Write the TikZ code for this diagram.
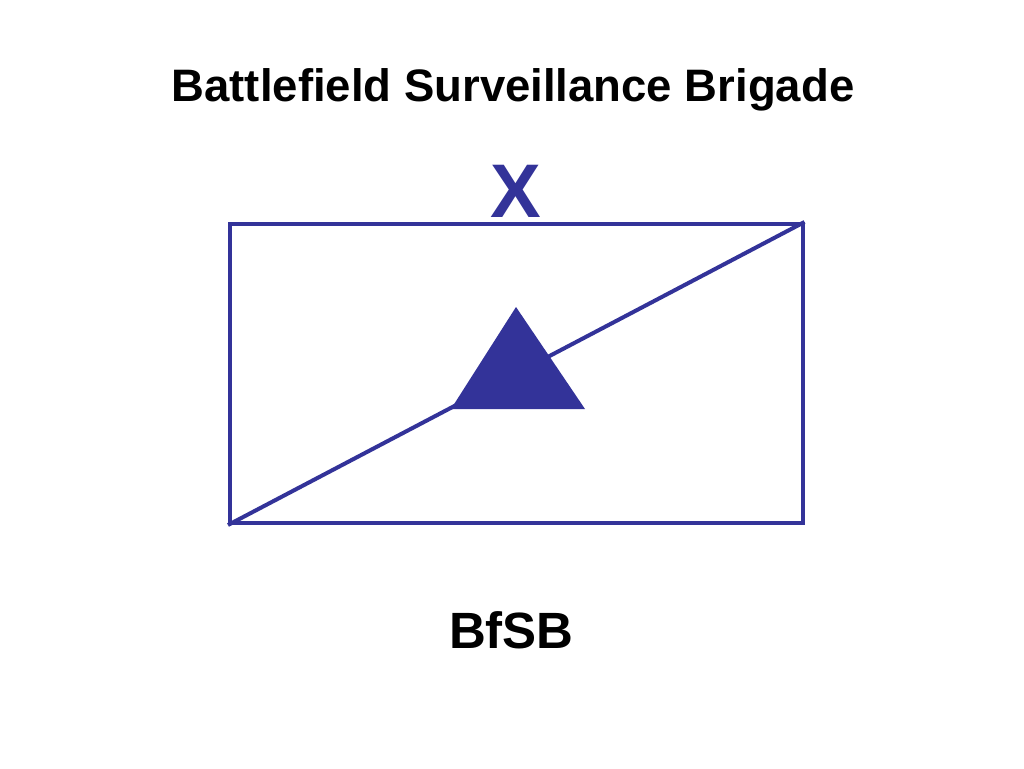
\documentclass[tikz,border=0pt]{standalone}
\usepackage{fontspec}
\setmainfont{Liberation Sans}
\usetikzlibrary{positioning}
\definecolor{symblue}{RGB}{51, 51, 153}

\begin{document}
\begin{tikzpicture}[x=1pt, y=-1pt, every node/.style={font=\bfseries, inner sep=0pt}]
    \useasboundingbox[fill=white] (0,0) rectangle (1024,768);

    % Title
    \node[anchor=base, font=\fontsize{45.5}{48}\selectfont\bfseries] (title) at (513,101) {Battlefield Surveillance Brigade};

    % Echelon mark
    \node[anchor=base, text=symblue, font=\fontsize{76}{80}\selectfont\bfseries] (echelon) at (516,217) {X};

    % Frame and diagonal
    \node[draw=symblue, line width=4pt, minimum width=572.5pt, minimum height=299pt] (frame) at (516.25,373.5) {};
    \draw[symblue, line width=4pt] (frame.south west) -- (frame.north east);

    % Triangle
    \coordinate (apex) at (516,307);
    \coordinate (left) at (451,409);
    \coordinate (right) at (585,409);
    \fill[symblue] (apex) -- (left) -- (right) -- cycle;

    % Abbreviation
    \node[anchor=base, font=\fontsize{51}{54}\selectfont\bfseries] (abbr) at (511.5,648) {BfSB};
\end{tikzpicture}
\end{document}
